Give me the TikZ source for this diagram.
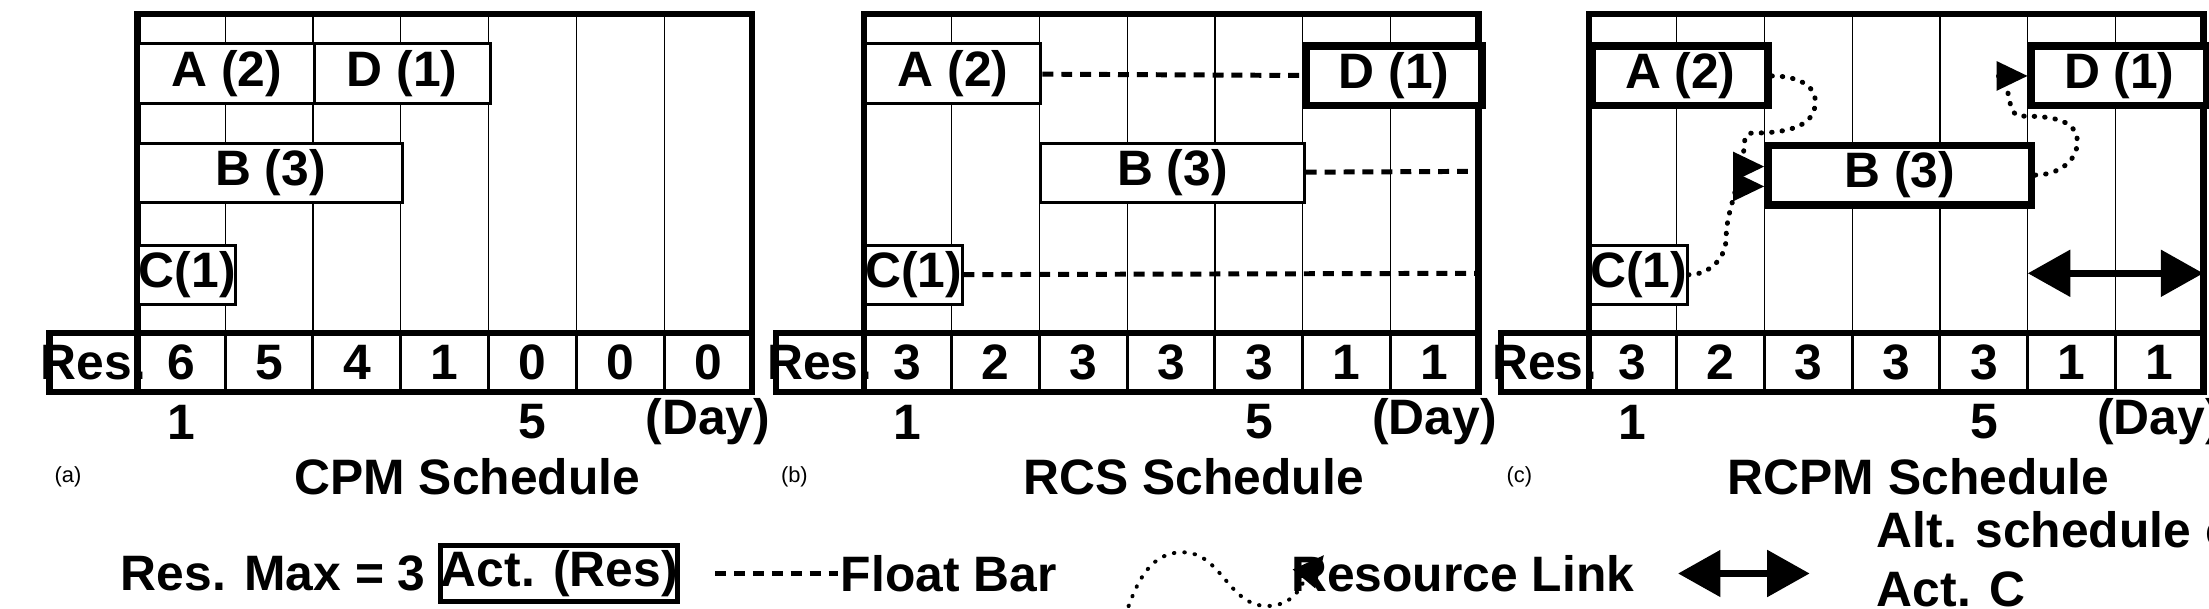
\documentclass[tikz,border=0pt]{standalone}
\usepackage{fontspec}
\setmainfont{Liberation Sans}
\usetikzlibrary{arrows.meta}

\tikzset{
  frame/.style={line width=1.3pt},
  grid/.style={line width=0.25pt},
  act/.style={draw, fill=white, line width=0.6pt, minimum height=4.2mm, inner sep=0pt, anchor=north west, font=\bfseries},
  crit/.style={act, line width=1.5pt},
  float/.style={line width=1pt, dash pattern=on 2.2pt off 1.6pt},
  link/.style={line width=1pt, dash pattern=on 0.1pt off 2pt, line cap=round, -{Triangle[length=2.2mm,width=2mm]}},
  alt/.style={line width=1.5pt, {Triangle[length=3mm,width=3.2mm]}-{Triangle[length=3mm,width=3.2mm]}},
  lbl/.style={font=\bfseries}
}

% one empty schedule panel: #1 prefix, #2 letter, #3 title, #4 resource values
\newcommand{\schedpanel}[4]{%
  \foreach \i in {1,...,6} \draw[grid] (\i*62,10) -- (\i*62,235);
  \draw[frame] (0,235) -- (0,10) -- (434,10) -- (434,235);
  \draw[frame] (-62,235) rectangle (434,277);
  \foreach \i in {0,...,6} \draw[line width=0.6pt] (\i*62,235) -- (\i*62,277);
  \draw[frame] (0,235) -- (0,277);
  \node[lbl] (#1res) at (-31,256) {Res.};
  \foreach \v [count=\k from 0] in {#4} \node[lbl] (#1r\k) at (\k*62+31,256) {\v};
  \node[lbl] (#1d1) at (31,298) {1};
  \node[lbl] (#1d5) at (279,298) {5};
  \node[lbl] (#1day) at (403,298) {(Day)};
  \node (#1tag) at (-49,337) {(#2)};
  \node[lbl] (#1title) at (233,337) {#3 Schedule};
}

\begin{document}
\begin{tikzpicture}[x=0.1mm, y=-0.1mm, font=\fontsize{4.4}{5.6}\selectfont]
  \useasboundingbox (0,0) rectangle (1560,430);

  % (a) CPM
  \begin{scope}[shift={(97,0)}]
    \schedpanel{a}{a}{CPM}{6,5,4,1,0,0,0}
    \node[act, minimum width=12.4mm] (aA) at (0,30) {A (2)};
    \node[act, minimum width=12.4mm] (aD) at (124,30) {D (1)};
    \node[act, minimum width=18.6mm] (aB) at (0,100) {B (3)};
    \node[act, minimum width=6.2mm] (aC) at (0,172) {C(1)};
  \end{scope}

  % (b) RCS
  \begin{scope}[shift={(610,0)}]
    \schedpanel{b}{b}{RCS}{3,2,3,3,3,1,1}
    \node[act, minimum width=12.4mm] (bA) at (0,30) {A (2)};
    \node[crit, minimum width=12.4mm] (bD) at (310,30) {D (1)};
    \node[act, minimum width=18.6mm] (bB) at (124,100) {B (3)};
    \node[act, minimum width=6.2mm] (bC) at (0,172) {C(1)};
    \coordinate (bBend) at (434,121);
    \coordinate (bCend) at (434,193);
    \draw[float] (bA) -- (bD);
    \draw[float] (bB) -- (bBend);
    \draw[float] (bC) -- (bCend);
  \end{scope}

  % (c) RCPM
  \begin{scope}[shift={(1122,0)}]
    \schedpanel{c}{c}{RCPM}{3,2,3,3,3,1,1}
    \node[crit, minimum width=12.4mm] (cA) at (0,30) {A (2)};
    \node[crit, minimum width=18.6mm] (cB) at (124,100) {B (3)};
    \node[crit, minimum width=12.4mm] (cD) at (310,30) {D (1)};
    \node[act, minimum width=6.2mm] (cC) at (0,172) {C(1)};
    \draw[link] (cA.east) to[out=0,in=90] (160,72) to[out=-90,in=0] (115,94)
      to[out=180,in=180] ([yshift=0.6mm]cB.west);
    \draw[link] (cC.east) to[out=0,in=-90] (97,168) to[out=90,in=180] ([yshift=-0.8mm]cB.west);
    \draw[link] (cB.east) to[out=0,in=-90] (345,100) to[out=90,in=0] (305,82)
      to[out=180,in=180] (cD.west);
    \coordinate (cAltL) at (310,193);
    \coordinate (cAltR) at (434,193);
    \draw[alt] (cAltL) -- (cAltR);
  \end{scope}

  % Legend
  \node[lbl] (resmax) at (193,405) {Res. Max = 3};
  \node[act, anchor=center, minimum width=14.6mm, minimum height=4mm, line width=1pt] (legact) at (395,405) {Act. (Res)};
  \coordinate (fl1) at (505,405);
  \coordinate (fl2) at (592,405);
  \draw[float] (fl1) -- (fl2);
  \node[lbl] (legfloat) at (670,405) {Float Bar};
  \coordinate (lk1) at (797,428);
  \coordinate (lk2) at (935,392);
  \draw[link, line width=0.8pt] (lk1) to[out=70,in=180] (835,390) to[out=0,in=180] (895,428) to[out=0,in=230] (lk2);
  \node[lbl] (leglink) at (1033,405) {Resource Link};
  \coordinate (al1) at (1185,405);
  \coordinate (al2) at (1278,405);
  \draw[alt] (al1) -- (al2);
  \node[lbl, align=left, anchor=west] (legalt) at (1313,395) {Alt. schedule of\\Act. C};
\end{tikzpicture}
\end{document}
